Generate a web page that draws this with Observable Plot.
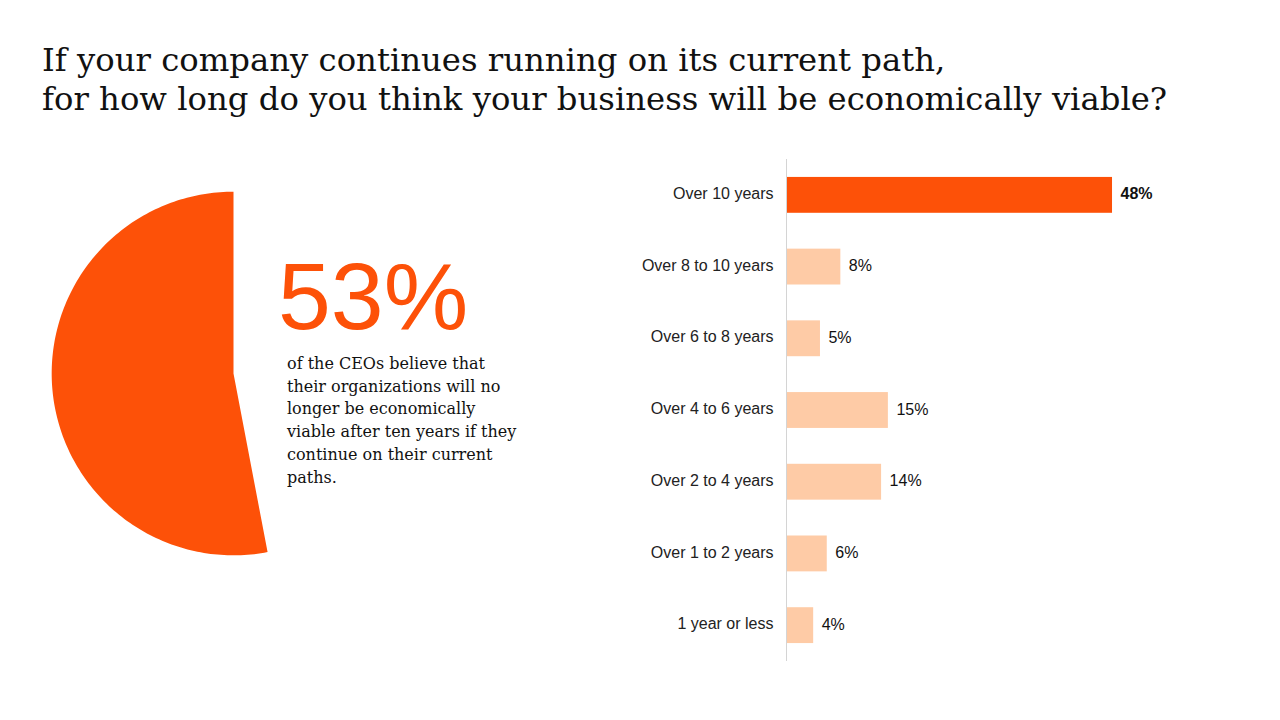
<!DOCTYPE html>
<html>
<head>
<meta charset="utf-8">
<script src="https://cdn.jsdelivr.net/npm/d3@7"></script>
<script src="https://cdn.jsdelivr.net/npm/@observablehq/plot@0.6"></script>
<style>
  html, body { margin: 0; padding: 0; background: #fff; }
  #page { position: relative; width: 1280px; height: 720px; overflow: hidden; background: #fff; }
  .title { position: absolute; left: 42px; top: 41px; font-family: "DejaVu Serif", serif; font-size: 32.3px; line-height: 39px; color: #111; white-space: nowrap; }
  .big { position: absolute; left: 278px; top: 242px; font-family: "Liberation Sans", Arial, sans-serif; font-size: 95px; line-height: 108px; color: #FD5108; }
  .note { position: absolute; left: 287px; top: 353px; font-family: "DejaVu Serif", serif; font-size: 16px; line-height: 22.7px; color: #111; white-space: nowrap; }
  #pie { position: absolute; left: 33px; top: 173px; }
  #bars { position: absolute; left: 620px; top: 151px; }
  svg text { font-family: "Liberation Sans", Arial, sans-serif; }
</style>
</head>
<body>
<div id="page">
  <div class="title" id="title"></div>
  <div id="pie"></div>
  <div class="big" id="big"></div>
  <div class="note" id="note"></div>
  <div id="bars"></div>
</div>
<script>
// Survey question and headline
const titleLines = [
  "If your company continues running on its current path,",
  "for how long do you think your business will be economically viable?"
];
const headlineShare = 53; // % of CEOs expecting viability to end within ten years
const noteLines = [
  "of the CEOs believe that",
  "their organizations will no",
  "longer be economically",
  "viable after ten years if they",
  "continue on their current",
  "paths."
];

// Responses by horizon
const horizons = [
  "Over 10 years",
  "Over 8 to 10 years",
  "Over 6 to 8 years",
  "Over 4 to 6 years",
  "Over 2 to 4 years",
  "Over 1 to 2 years",
  "1 year or less"
];
const shares = [48, 8, 5, 15, 14, 6, 4];

const orange = "#FD5108";
const peach = "#FECBA6";

document.getElementById("title").innerHTML = titleLines.join("<br>");
document.getElementById("big").textContent = headlineShare + "%";
document.getElementById("note").innerHTML = noteLines.join("<br>");

// Headline wedge: starts at 12 o'clock and sweeps counter-clockwise by the share
const steps = 180;
const sweep = 2 * Math.PI * headlineShare / 100;
const wedge = [{x: 0, y: 0}];
for (let i = 0; i <= steps; i++) {
  const t = sweep * i / steps;
  wedge.push({x: -Math.sin(t), y: Math.cos(t)});
}
wedge.push({x: 0, y: 0});

const pie = Plot.plot({
  width: 400,
  height: 400,
  margin: 0,
  x: {domain: [-1.1, 1.1], axis: null},
  y: {domain: [-1.1, 1.1], axis: null},
  marks: [
    Plot.line(wedge, {x: "x", y: "y", fill: orange, stroke: "none", curve: "linear"})
  ]
});
document.getElementById("pie").append(pie);

// Horizontal bar chart of responses
const rows = horizons.map((h, i) => ({horizon: h, share: shares[i], top: i === 0}));
const topRows = rows.filter(d => d.top);
const otherRows = rows.filter(d => !d.top);

const bars = Plot.plot({
  width: 660,
  height: 520,
  marginLeft: 166,
  marginRight: 154.4,
  marginTop: 8,
  marginBottom: 10,
  style: {fontFamily: "Liberation Sans, Arial, sans-serif", fontSize: "16px", color: "#222", background: "transparent"},
  x: {domain: [0, 50], axis: null},
  y: {domain: horizons, paddingInner: 0.5, paddingOuter: 0.25, round: false, label: null},
  marks: [
    Plot.barX(rows, {y: "horizon", x: "share", fill: d => d.top ? orange : peach}),
    Plot.ruleX([0], {stroke: "#d4d4d4", strokeWidth: 1}),
    Plot.axisY({tickSize: 0, tickPadding: 13, fontSize: 16, fill: "#222", label: null, dy: -1.5}),
    Plot.text(otherRows, {
      y: "horizon", x: "share", text: d => d.share + "%",
      dx: 8, dy: -1, textAnchor: "start", fontSize: 16, fill: "#111"
    }),
    Plot.text(topRows, {
      y: "horizon", x: "share", text: d => d.share + "%",
      dx: 8, dy: -1, textAnchor: "start", fontSize: 16, fill: "#111", fontWeight: "bold"
    })
  ]
});
document.getElementById("bars").append(bars);
</script>
</body>
</html>
